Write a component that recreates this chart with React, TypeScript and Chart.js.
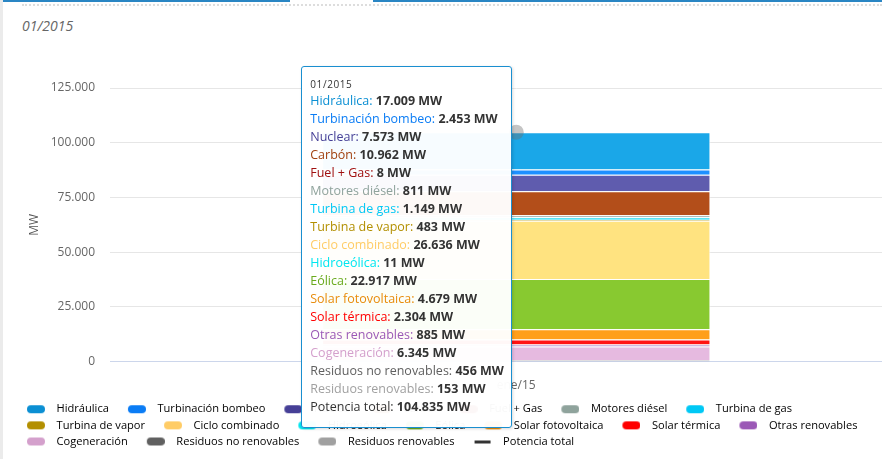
import { useEffect, useRef } from 'react';
import { Chart, registerables } from 'chart.js';

Chart.register(...registerables);

const FONT = '"Open Sans", "DejaVu Sans", sans-serif';

// datos de enero 2015
const periodLabel = '01/2015';
const categories = ['ene/15'];
const seriesNames = [
  'Hidráulica', 'Turbinación bombeo', 'Nuclear', 'Carbón', 'Fuel + Gas', 'Motores diésel',
  'Turbina de gas', 'Turbina de vapor', 'Ciclo combinado', 'Hidroeólica', 'Eólica',
  'Solar fotovoltaica', 'Solar térmica', 'Otras renovables', 'Cogeneración',
  'Residuos no renovables', 'Residuos renovables',
];
const seriesValues = [17009, 2453, 7573, 10962, 8, 811, 1149, 483, 26636, 11, 22917, 4679, 2304, 885, 6345, 456, 153];
const totalName = 'Potencia total';
const totalValues = [104835];
const yTicks = [0, 25000, 50000, 75000, 100000, 125000];

const barColors = [
  '#1aa7e8', '#1e90ff', '#5f5cae', '#b34e1a', '#b81a1a', '#95a5a0',
  '#22dcf5', '#b8960a', '#ffe380', '#12f0f5', '#88c930',
  '#ff9f1a', '#ff1414', '#a070c0', '#e6bae0',
  '#666666', '#a6a6a6',
];
const keyColors = [
  '#0b8fd3', '#0a7cf5', '#463f96', '#a0400f', '#a01010', '#8fa39c',
  '#00c8f5', '#b38f00', '#ffcc66', '#00e6f0', '#6aaa1e',
  '#e88c0c', '#ff0000', '#9b59b6', '#d4a0cc',
  '#606060', '#a0a0a0',
];
const totalColor = '#333333';

const fmt = (v: number) => String(Math.round(v)).replace(/\B(?=(\d{3})+(?!\d))/g, '.');

function keyImage(color: string, line = false) {
  const c = document.createElement('canvas');
  c.width = 26;
  c.height = 10;
  const g = c.getContext('2d')!;
  g.fillStyle = color;
  if (line) {
    g.fillRect(9, 4, 16, 3);
  } else {
    g.beginPath();
    g.roundRect(8, 1, 18, 8, 4);
    g.fill();
  }
  return c;
}

export default function App() {
  const canvasRef = useRef<HTMLCanvasElement>(null);
  const tipRef = useRef<HTMLDivElement>(null);

  useEffect(() => {
    const ctx = canvasRef.current!.getContext('2d')!;
    const tipEl = tipRef.current!;
    const font = { family: FONT, size: 12 };

    const barSets = seriesNames
      .map((name, i) => ({
        type: 'bar' as const,
        label: name,
        data: [seriesValues[i]],
        backgroundColor: barColors[i],
        borderColor: '#ffffff',
        borderWidth: 1,
        categoryPercentage: 1,
        barPercentage: 0.478,
      }))
      .reverse();

    const renderTip = ({ chart, tooltip }: any) => {
      if (!tooltip.dataPoints || tooltip.opacity === 0) {
        tipEl.style.display = 'none';
        return;
      }
      const byName: Record<string, number> = {};
      tooltip.dataPoints.forEach((p: any) => { byName[p.dataset.label] = p.raw; });
      const rows = [...seriesNames, totalName].map((name, i) => {
        const col = i < keyColors.length ? keyColors[i] : totalColor;
        return `<div style="line-height:18px;white-space:nowrap"><span style="color:${col}">${name}:</span> <b style="color:#333">${fmt(byName[name])} MW</b></div>`;
      });
      tipEl.innerHTML =
        `<div style="font-size:10px;line-height:16px;letter-spacing:0.6px;color:#333">${tooltip.title[0]}</div>` +
        rows.join('');
      tipEl.style.display = 'block';
      tipEl.style.left = `${tooltip.caretX - 215}px`;
      tipEl.style.top = `${chart.chartArea.top - 22}px`;
    };

    const chart = new Chart(ctx, {
      data: {
        labels: categories,
        datasets: [
          {
            type: 'line' as const,
            label: totalName,
            data: totalValues,
            borderColor: totalColor,
            borderWidth: 3,
            pointRadius: 7.5,
            pointBackgroundColor: 'rgba(110,110,110,0.4)',
            pointBorderWidth: 0,
          },
          ...barSets,
        ] as any,
      },
      options: {
        responsive: true,
        maintainAspectRatio: false,
        animation: false,
        events: [],
        layout: { padding: { top: 88, left: 8, right: 0, bottom: 2 } },
        scales: {
          x: {
            stacked: true,
            grid: { display: false },
            border: { color: '#ccd6eb', width: 1 },
            ticks: { color: '#666', font, padding: 9 },
            afterFit: (s: any) => { s.height = 37; },
          },
          y: {
            stacked: true,
            min: 0,
            max: 125000,
            afterBuildTicks: (s: any) => { s.ticks = yTicks.map((v) => ({ value: v })); },
            grid: {
              color: (c: any) => (c.tick && c.tick.value === 0 ? '#ccd6eb' : '#e6e6e6'),
              drawTicks: false,
            },
            border: { display: false },
            ticks: { color: '#666', font, padding: 15, callback: (v: any) => fmt(Number(v)) },
            title: { display: true, text: 'MW', color: '#555', font, padding: { top: 19, bottom: 0 } },
            afterFit: (s: any) => { s.width = 102; },
          },
        },
        plugins: {
          legend: {
            position: 'bottom',
            align: 'start',
            labels: {
              usePointStyle: true,
              pointStyleWidth: 38,
              boxHeight: 10,
              padding: 5,
              color: '#555',
              font: { family: FONT, size: 11.1 },
              generateLabels: (c: any) => {
                const items = seriesNames.map((name, i) => ({
                  text: name,
                  fillStyle: keyColors[i],
                  strokeStyle: keyColors[i],
                  lineWidth: 0,
                  hidden: false,
                  pointStyle: keyImage(keyColors[i]),
                  datasetIndex: c.data.datasets.findIndex((d: any) => d.label === name),
                }));
                items.push({
                  text: totalName,
                  fillStyle: totalColor,
                  strokeStyle: totalColor,
                  lineWidth: 0,
                  hidden: false,
                  pointStyle: keyImage(totalColor, true),
                  datasetIndex: 0,
                });
                return items;
              },
            },
          },
          tooltip: {
            enabled: false,
            mode: 'index',
            intersect: false,
            external: renderTip,
            callbacks: { title: () => periodLabel },
          },
        },
      } as any,
    });

    chart.tooltip!.setActiveElements(
      chart.data.datasets.map((_, i) => ({ datasetIndex: i, index: 0 })),
      { x: 516, y: 132 },
    );
    chart.update();

    return () => {
      chart.destroy();
    };
  }, []);

  return (
    <div
      style={{
        position: 'fixed', left: 0, top: 0, width: 882, height: 459,
        overflow: 'hidden', background: '#fff', fontFamily: FONT,
      }}
    >
      <div style={{ position: 'absolute', left: 0, top: 0, width: 3, height: 459, background: '#ebebeb' }} />
      <div style={{ position: 'absolute', left: 3, top: 0, width: 287, height: 2, background: '#2a86c4' }} />
      <div style={{ position: 'absolute', left: 373, top: 0, width: 509, height: 2, background: '#2a86c4' }} />
      <div style={{ position: 'absolute', left: 22, top: 4, width: 860, borderTop: '2px dotted #dddddd' }} />
      <div
        style={{
          position: 'absolute', left: 22, top: 16, fontSize: 14, fontStyle: 'italic', color: '#666',
        }}
      >
        {periodLabel}
      </div>
      <div style={{ position: 'absolute', left: 0, top: 0, width: 930, height: 459 }}>
        <canvas ref={canvasRef} />
      </div>
      <div
        ref={tipRef}
        style={{
          position: 'absolute', display: 'none', width: 211, boxSizing: 'border-box',
          padding: '9px 8px 11px 8px', background: 'rgba(255,255,255,0.97)',
          border: '1px solid #1a8fd0', borderRadius: 3, boxShadow: '1px 1px 3px rgba(0,0,0,0.15)',
          fontSize: 12.5, color: '#333', pointerEvents: 'none',
        }}
      />
    </div>
  );
}
